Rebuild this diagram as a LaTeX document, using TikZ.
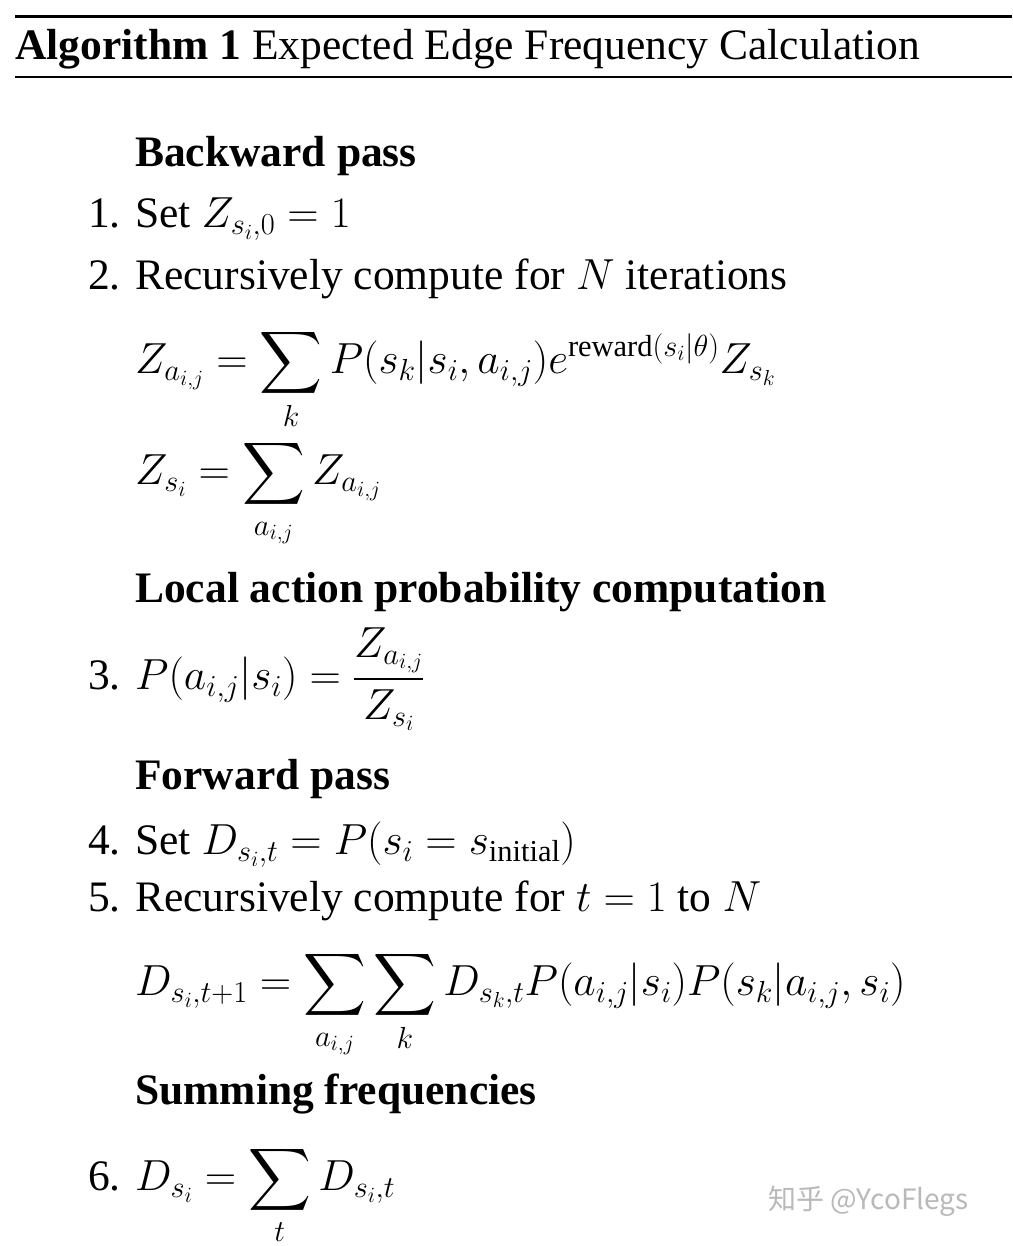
\RequirePackage{fix-cm}
\documentclass[tikz,border=0pt]{standalone}
\usepackage{amsmath}
\usepackage{exscale}
\DeclareFontShape{OMX}{cmex}{m}{n}{<->cmex10}{}
\usepackage{fontspec}
\setmainfont{Liberation Serif}
\newfontfamily\cjk{Noto Sans CJK SC}
\begin{document}
\begin{tikzpicture}[x=1pt,y=1pt,
  txt/.style={anchor=base west,inner sep=0pt,font=\fontsize{43.5}{52}\selectfont}]
\useasboundingbox (0,0) rectangle (1012,1246);
\fill[white] (0,0) rectangle (1012,1246);
\coordinate (r1a) at (15,1229); \coordinate (r1b) at (1012,1229);
\coordinate (r2a) at (15,1169); \coordinate (r2b) at (1012,1169);
\draw[line width=3pt] (r1a) -- (r1b);
\draw[line width=1.5pt] (r2a) -- (r2b);
\node[txt] (title) at (15,1186) {\textbf{Algorithm 1} Expected Edge Frequency Calculation};
\node[txt] (h1) at (135,1079) {\textbf{Backward pass}};
\node[txt] (n1) at (88,1018) {1.};
\node[txt] (t1) at (135,1018) {Set $Z_{s_i,0}=1$};
\node[txt] (n2) at (88,956) {2.};
\node[txt] (t2) at (135,956) {Recursively compute for $N$ iterations};
\node[txt] (f1) at (135,872) {$\displaystyle Z_{a_{i,j}}=\sum_k P(s_k|s_i,a_{i,j})e^{\text{reward}(s_i|\theta)}Z_{s_k}$};
\node[txt] (f2) at (135,761) {$\displaystyle Z_{s_i}=\sum_{a_{i,j}} Z_{a_{i,j}}$};
\node[txt] (h2) at (135,643) {\textbf{Local action probability computation}};
\node[txt] (n3) at (88,556) {3.};
\node[txt] (t3) at (135,556) {$\displaystyle P(a_{i,j}|s_i)=\frac{Z_{a_{i,j}}}{Z_{s_i}}$};
\node[txt] (h3) at (135,456) {\textbf{Forward pass}};
\node[txt] (n4) at (88,391) {4.};
\node[txt] (t4) at (135,391) {Set $D_{s_i,t}=P(s_i=s_{\text{initial}})$};
\node[txt] (n5) at (88,334) {5.};
\node[txt] (t5) at (135,334) {Recursively compute for $t=1$ to $N$};
\node[txt] (f3) at (135,250) {$\displaystyle D_{s_i,t+1}=\sum_{a_{i,j}}\sum_k D_{s_k,t}P(a_{i,j}|s_i)P(s_k|a_{i,j},s_i)$};
\node[txt] (h4) at (135,141) {\textbf{Summing frequencies}};
\node[txt] (n6) at (88,55) {6.};
\node[txt] (t6) at (135,55) {$\displaystyle D_{s_i}=\sum_t D_{s_i,t}$};
\node[anchor=base west,inner sep=0pt,text=gray!55,font=\cjk\fontsize{28}{32}\selectfont] (wm) at (768,36) {知乎 @YcoFlegs};
\end{tikzpicture}
\end{document}
